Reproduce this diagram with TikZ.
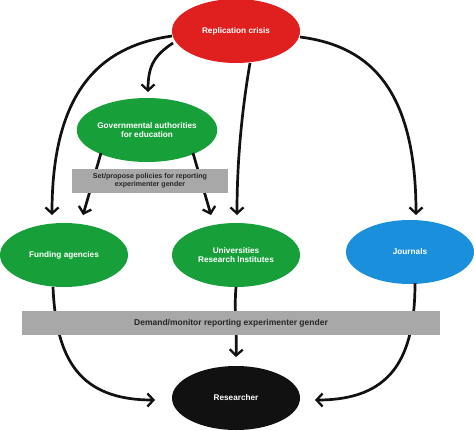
\documentclass[tikz,border=0pt]{standalone}
\usepackage{fontspec}
\setmainfont{Liberation Sans}
\usetikzlibrary{shapes.geometric,arrows.meta}
\definecolor{cred}{HTML}{E0201E}
\definecolor{cgreen}{HTML}{17A039}
\definecolor{cblue}{HTML}{1A8FDB}
\definecolor{cgray}{HTML}{A8A8A8}
\definecolor{cblack}{HTML}{111111}
\tikzset{
  oval/.style={ellipse, minimum width=128pt, minimum height=64pt, inner sep=0pt,
    text=white, font=\fontsize{8.2}{9.2}\selectfont\bfseries, align=center},
  graybox/.style={fill=cgray, inner sep=0pt, text=black!85, align=center},
  arr/.style={line width=2.7pt, cblack, -{Straight Barb[length=6pt,width=13pt,line width=2.3pt]}},
}
\begin{document}
\begin{tikzpicture}[x=1pt,y=-1pt]
\useasboundingbox (0,0) rectangle (474,431);
\fill[white] (0,0) rectangle (474,431);
% nodes
\node[oval, fill=cred] (rep) at (236,31) {Replication crisis};
\node[oval, fill=cgreen] (gov) at (147,130) {Governmental authorities\\for education};
\node[oval, fill=cgreen] (fund) at (64,255) {Funding agencies};
\node[oval, fill=cgreen] (uni) at (236,255) {Universities\\Research Institutes};
\node[oval, fill=cblue] (jour) at (410,252) {Journals};
\node[oval, fill=cblack] (res) at (236,398) {Researcher};
% coordinates
\coordinate (rA) at (172,36);
\coordinate (rB) at (173,43);
\coordinate (rC) at (250,63);
\coordinate (rD) at (300,37);
\coordinate (fA) at (52,215);
\coordinate (gA) at (148,92);
\coordinate (uA) at (237,215);
\coordinate (jA) at (416,215);
\coordinate (gB) at (101,153);
\coordinate (gC) at (193,153);
\coordinate (fB) at (83,215);
\coordinate (uB) at (211,215);
\coordinate (fC) at (53,287);
\coordinate (uC) at (236,287);
\coordinate (jC) at (415,283);
\coordinate (resL) at (155,400);
\coordinate (resT) at (236,357);
\coordinate (resR) at (315,400);
% arrows
\draw[arr] (rA) .. controls (110,45) and (52,80) .. (fA);
\draw[arr] (rB) .. controls (155,55) and (148,65) .. (gA);
\draw[arr] (rC) .. controls (242,110) and (237,160) .. (uA);
\draw[arr] (rD) .. controls (362,45) and (416,80) .. (jA);
\draw[arr] (gB) -- (fB);
\draw[arr] (gC) -- (uB);
\draw[arr] (fC) .. controls (56,360) and (80,400) .. (resL);
\draw[arr] (uC) .. controls (234,310) and (237,330) .. (resT);
\draw[arr] (jC) .. controls (415,360) and (390,400) .. (resR);
% boxes
\node[graybox, minimum width=156pt, minimum height=24pt,
  font=\fontsize{7.1}{7.8}\selectfont\bfseries] (set) at (150,181)
  {Set/propose policies for reporting\\experimenter gender};
\node[graybox, minimum width=418pt, minimum height=24pt,
  font=\fontsize{8.5}{9.5}\selectfont\bfseries] (dem) at (231,323)
  {Demand/monitor reporting experimenter gender};
\end{tikzpicture}
\end{document}
